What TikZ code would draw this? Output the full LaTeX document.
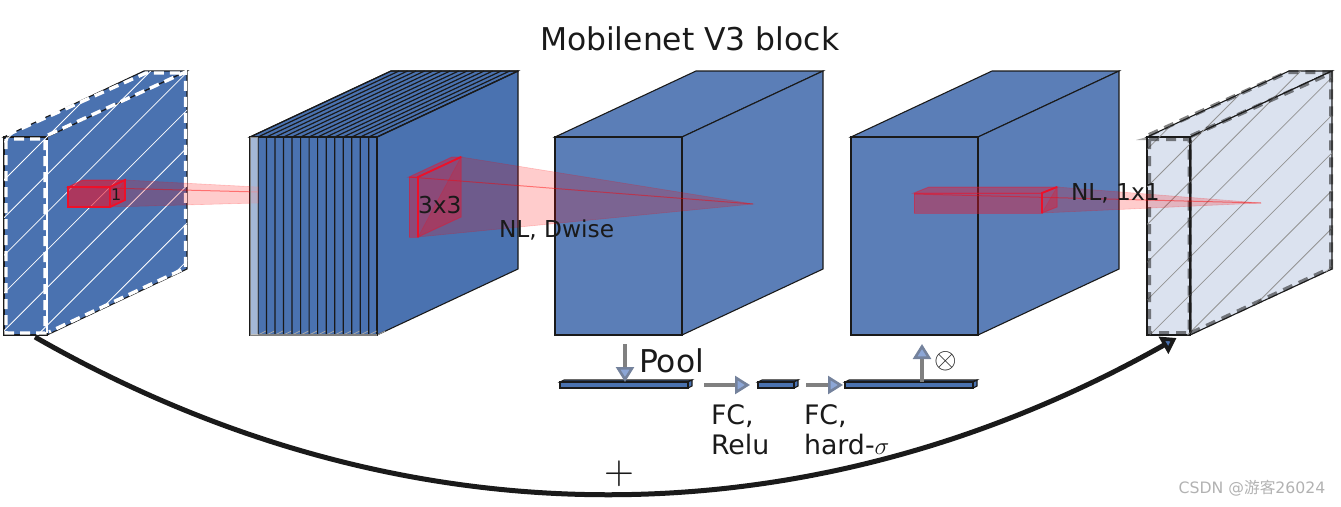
\documentclass[tikz,border=0pt]{standalone}
\usepackage{fontspec}
\setmainfont{DejaVu Sans}
\newfontfamily\cjk{Noto Sans CJK SC}
\usetikzlibrary{arrows.meta}

\definecolor{deepblue}{HTML}{4A72B0}
\definecolor{midblue}{HTML}{5B7EB7}
\definecolor{paleblue}{HTML}{DBE2EF}
\definecolor{ink}{HTML}{1A1A1A}
\definecolor{kernelred}{HTML}{EE1028}
\definecolor{gatefill}{HTML}{8CA6D6}
\definecolor{gateedge}{HTML}{74829C}

\tikzset{
  x=1pt,y=-1pt,
  face/.style={draw=ink,line width=1.1pt,fill=#1},
  front/.style={inner sep=0pt,outer sep=0pt,rectangle},
  label/.style={inner sep=0pt,outer sep=0pt,anchor=base west,text=ink,font=\fontsize{23.3}{28}\selectfont},
  big/.style={label,font=\fontsize{31.4}{36}\selectfont},
  fc/.style={label,font=\fontsize{26.8}{32}\selectfont},
  kernel/.style={draw=kernelred,draw opacity=#1,line width=1pt,fill=kernelred,fill opacity=#1},
  edgeline/.style={draw=kernelred,line width=1.8pt},
  cone/.style={fill=red,fill opacity=.2,draw=red,draw opacity=.2,line width=.6pt},
  axis/.style={draw=red,draw opacity=.45,line width=1pt},
  gate/.style={draw=gray,line width=4pt,
    -{Triangle[length=15pt,width=18pt,fill=gatefill,color=gateedge,line width=2.6pt]}},
  skip/.style={draw=ink,line width=5pt,
    -{Triangle[length=15pt,width=19pt,fill=deepblue,color=ink,line width=4pt]}},
}

% name, left, top, width, height, depth x, depth y, style
\newcommand{\cuboid}[8]{
  \path[#8] (#2,#3) -- ++(#6,#7) -- ++(#4,0) -- (#2+#4,#3) -- cycle;
  \path[#8] (#2+#4,#3) -- ++(#6,#7) -- ++(0,#5) -- (#2+#4,#3+#5) -- cycle;
  \node[front,#8,minimum width=#4pt,minimum height=#5pt,anchor=north west] (#1) at (#2,#3) {};
}

\begin{document}
\begin{tikzpicture}
  \useasboundingbox (0,0) rectangle (1341,506);

  % input block
  \cuboid{input}{4}{137}{43}{198}{140}{-66}{face=deepblue}
  \begin{scope}
    \clip (4,137) -- (145,71) -- (187,71) -- (187,269) -- (47,335) -- (4,335) -- cycle;
    \foreach \k in {-1,...,8}
      \draw[white,line width=.8pt] (-50,234+37.7*\k) -- ++(400,-400);
  \end{scope}
  \draw[white,line width=3.4pt,dash pattern=on 10pt off 6pt]
    (6,139) rectangle (45,333)
    (48,135) -- (185.5,72) -- (185.5,268) -- (49,332)
    (7,135) -- (146,73) -- (184,73);
  \draw[white,line width=2.5pt] (47,140) -- (47,333);

  % stack of depthwise slices
  \cuboid{stack}{250}{137}{127}{198}{141}{-66}{face=deepblue}
  \foreach \k in {0,...,14} {
    \draw[gray!70,line width=.8pt] (258+8.52*\k,335) -- ++(8,-4);
    \draw[ink,line width=1.2pt] (258+8.52*\k,335) -- (258+8.52*\k,137) -- ++(141,-66);
  }
  \draw[ink,line width=1.2pt] (stack.north west) -- (391,71) -- (518,71);
  \draw[gray,line width=1.4pt] (stack.south west) -- (stack.south east);

  % 1x1 kernel on the input
  \path[cone] (125,180) -- (258,187) -- (258,203) -- (110,207) -- cycle;
  \path[axis] (68,187) -- (258,192);
  \cuboid{kernelA}{68}{187}{42}{20}{15}{-7}{kernel=.6}
  \draw[edgeline] (kernelA.south west) rectangle (kernelA.north east)
    (kernelA.north east) -- ++(15,-7) -- ++(0,20) -- (kernelA.south east);
  \fill[white,fill opacity=.5] (250,137) rectangle (258,335);
  \draw[gray,line width=1pt] (stack.south west) -- (stack.north west);

  % expanded blocks
  \cuboid{depthwise}{555}{137}{127}{198}{141}{-66}{face=midblue}
  \cuboid{squeeze}{851}{137}{127}{198}{141}{-66}{face=midblue}

  % 3x3 kernel
  \path[cone] (461,157) -- (753,204) -- (418,237) -- cycle;
  \path[axis] (409,177) -- (753,204);
  \cuboid{kernelB}{409}{177}{9}{60}{43}{-20}{kernel=.4}
  \draw[edgeline] (kernelB.south east) -- (kernelB.north east) -- ++(43,-20);

  % output block
  \fill[gray!70] (1136,140) -- (1147,137) -- (1147,140) -- cycle;
  \cuboid{output}{1147}{137}{43}{198}{142}{-66}{face=paleblue}
  \begin{scope}
    \clip (1147,137) -- (1288,71) -- (1332,71) -- (1332,269) -- (1190,335) -- (1147,335) -- cycle;
    \foreach \k in {-1,...,8}
      \draw[gray!85,line width=.8pt] (1100,234+37.7*\k) -- ++(400,-400);
  \end{scope}
  \draw[ink,draw opacity=.55,line width=4pt,dash pattern=on 10pt off 7pt]
    (1149,139) rectangle (1189.5,333)
    (1191,136) -- (1331,73) -- (1331,268) -- (1191,333)
    (1149,135) -- (1288,72) -- (1331,72);
  \draw[ink,draw opacity=.55,line width=3pt] (1190,140) -- (1190,333);

  % 1x1 kernel on the last block
  \path[cone] (1057,187) -- (1261,203) -- (1042,213) -- cycle;
  \path[axis] (914,194) -- (1261,203);
  \cuboid{kernelC}{914}{193}{128}{20}{15}{-6}{kernel=.4}
  \draw[edgeline] (kernelC.south east) -- (kernelC.north east) -- ++(15,-6);

  % squeeze and excite bars
  \cuboid{barA}{560}{382}{128}{6}{4}{-2}{face=deepblue}
  \cuboid{barB}{758}{382}{36}{6}{4}{-2}{face=deepblue}
  \cuboid{barC}{845}{382}{128}{6}{4}{-2}{face=deepblue}

  \draw[gate,shorten <=9pt] ([xshift=6.5pt]depthwise.south) -- ([xshift=1pt]barA.north);
  \draw[gate,shorten <=16pt,shorten >=8pt] (barA.east) -- (barB.west);
  \draw[gate,shorten <=12pt,shorten >=2pt] (barB.east) -- (barC.west);
  \draw[gate,shorten >=9pt] ([xshift=13pt]barC.north) -- ([xshift=7.5pt]squeeze.south);

  % labels
  \node[big] (title) at (540,50) {Mobilenet V3 block};
  \node[label,font=\fontsize{16}{18}\selectfont] (one) at (111,200) {1};
  \node[label] (threexthree) at (418,213) {3x3};
  \node[label] (dwise) at (499,237) {NL, Dwise};
  \node[label] (nlone) at (1071,200) {NL, 1x1};
  \node[big] (pool) at (639,372) {Pool};
  \node[fc] (fcA) at (711,424) {FC,};
  \node[fc] (relu) at (711,454) {Relu};
  \node[fc] (fcB) at (804,424) {FC,};
  \node[fc] (hard) at (804,454) {hard-$\sigma$};
  \node[text=ink,inner sep=0pt] (times) at (946,361) {\scalebox{2.9}{$\otimes$}};
  \node[text=ink,inner sep=0pt] (plus) at (619,474) {\scalebox{3.9}{$+$}};
  \node[inner sep=0pt,text=gray!60,font=\fontsize{15.7}{18}\selectfont] (mark) at (1252,488) {CSDN @{\cjk 游客}26024};

  % residual connection
  \draw[skip] ([xshift=9.5pt,yshift=-2pt]input.south) .. controls (400,546) and (807,546) .. ([xshift=8pt,yshift=-3pt]output.south);
\end{tikzpicture}
\end{document}
